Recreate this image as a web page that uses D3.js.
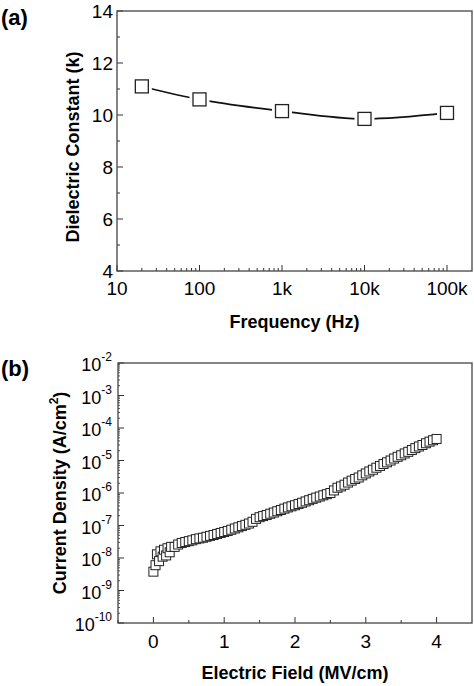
<!DOCTYPE html><html><head><meta charset="utf-8"><script src="https://cdn.jsdelivr.net/npm/d3@7"></script>
<style>body{margin:0;background:#fff}text{font-family:"Liberation Sans",Arial,sans-serif}</style></head><body>
<svg id="c" width="474" height="686"></svg>
<script>
const freq=[20,100,1000,10000,100000];
const kVals=[11.1,10.6,10.15,9.85,10.08];
const freqTicks=[10,100,1000,10000,100000];
const freqLabels=["10","100","1k","10k","100k"];
const kTicks=[4,6,8,10,12,14];
const field=[0,0.03,0.05,0.08,0.1,0.13,0.15,0.18,0.2,0.23,0.25,0.3,0.35,0.4,0.45,0.5,0.55,0.6,0.65,0.7,0.75,0.8,0.85,0.9,0.95,1.0,1.05,1.1,1.15,1.2,1.25,1.3,1.35,1.4,1.45,1.5,1.55,1.6,1.65,1.7,1.75,1.8,1.85,1.9,1.95,2.0,2.05,2.1,2.15,2.2,2.25,2.3,2.35,2.4,2.45,2.5,2.55,2.6,2.65,2.7,2.75,2.8,2.85,2.9,2.95,3.0,3.05,3.1,3.15,3.2,3.25,3.3,3.35,3.4,3.45,3.5,3.55,3.6,3.65,3.7,3.75,3.8,3.85,3.9,3.95,4.0];
const jVals=[3.8e-9,6e-9,1.3e-8,8e-9,1.6e-8,1.1e-8,1.8e-8,1.2e-8,2e-8,1.5e-8,2.2e-8,2.2e-8,2.6e-8,2.9e-8,3.1e-8,3.3e-8,3.5e-8,3.8e-8,4.0e-8,4.2e-8,4.5e-8,4.8e-8,5.1e-8,5.5e-8,5.9e-8,6.3e-8,6.8e-8,7.4e-8,8.1e-8,8.8e-8,9.6e-8,1.05e-7,1.15e-7,1.3e-7,1.6e-7,1.8e-7,1.95e-7,2.1e-7,2.3e-7,2.5e-7,2.75e-7,3e-7,3.3e-7,3.6e-7,3.9e-7,4.2e-7,4.6e-7,5e-7,5.5e-7,6e-7,6.6e-7,7.2e-7,7.8e-7,8.5e-7,9.2e-7,1.0e-6,1.2e-6,1.45e-6,1.6e-6,1.8e-6,2.1e-6,2.4e-6,2.7e-6,3.0e-6,3.5e-6,4.0e-6,4.6e-6,5.2e-6,6e-6,6.8e-6,7.8e-6,8.8e-6,1.0e-5,1.15e-5,1.3e-5,1.45e-5,1.65e-5,1.85e-5,2.1e-5,2.4e-5,2.7e-5,3.0e-5,3.4e-5,3.8e-5,4.2e-5,4.6e-5];
const jTicks=[-10,-9,-8,-7,-6,-5,-4,-3,-2];
const fieldTicks=[0,1,2,3,4];

const svg=d3.select("#c");
function frame(L,T,R,B){svg.append("rect").attr("x",L).attr("y",T).attr("width",R-L).attr("height",B-T).attr("fill","none").attr("stroke","#444").attr("stroke-width",1.3);}

// Panel a
const aL=117,aR=472,aT=11,aB=271;
const xa=d3.scaleLog().domain([10,100000]).range([aL,447]);
const ya=d3.scaleLinear().domain([4,14]).range([aB,aT]);
const ga=svg.append("g");
const minorX=[];for(let e=1;e<6;e++)for(let m=2;m<10;m++)if(m*10**e<190000)minorX.push(m*10**e);
minorX.forEach(v=>ga.append("line").attr("x1",xa(v)).attr("x2",xa(v)).attr("y1",aB).attr("y2",aB-3).attr("stroke","#333"));
freqTicks.forEach((v,i)=>{ga.append("line").attr("x1",xa(v)).attr("x2",xa(v)).attr("y1",aB).attr("y2",aB-6).attr("stroke","#333");
 ga.append("text").attr("x",xa(v)).attr("y",aB+24).attr("text-anchor","middle").attr("font-size",19).text(freqLabels[i]);});
d3.range(5,14,2).forEach(v=>ga.append("line").attr("x1",aL).attr("x2",aL+3).attr("y1",ya(v)).attr("y2",ya(v)).attr("stroke","#333"));
kTicks.forEach(v=>{ga.append("line").attr("x1",aL).attr("x2",aL+6).attr("y1",ya(v)).attr("y2",ya(v)).attr("stroke","#333");
 ga.append("text").attr("x",aL-4).attr("y",ya(v)+7).attr("text-anchor","end").attr("font-size",19).text(v);});
frame(aL,aT,aR,aB);
ga.append("path").datum(freq.map((f,i)=>[f,kVals[i]])).attr("d",d3.line().x(d=>xa(d[0])).y(d=>ya(d[1])).curve(d3.curveMonotoneX)).attr("fill","none").attr("stroke","#111").attr("stroke-width",1.6);
freq.forEach((f,i)=>{ga.append("rect").attr("x",xa(f)-10).attr("y",ya(kVals[i])-10).attr("width",20).attr("height",20).attr("fill","#fff");
 ga.append("rect").attr("x",xa(f)-6.5).attr("y",ya(kVals[i])-6.5).attr("width",13).attr("height",13).attr("fill","#fff").attr("stroke","#222").attr("stroke-width",1.3);});
ga.append("text").attr("x",(aL+aR)/2).attr("y",328).attr("text-anchor","middle").attr("font-size",18).attr("font-weight","bold").text("Frequency (Hz)");
ga.append("text").attr("transform",`translate(79,${(aT+aB)/2+6}) rotate(-90)`).attr("text-anchor","middle").attr("font-size",18).attr("font-weight","bold").text("Dielectric Constant (k)");
svg.append("text").attr("x",1).attr("y",25).attr("font-size",22).attr("font-weight","bold").text("(a)");

// Panel b
const bL=118,bR=472,bT=363,bB=623;
const xb=d3.scaleLinear().domain([-0.5,4.5]).range([bL,bR]);
const yb=d3.scaleLog().domain([1e-10,1e-2]).range([bB,bT]);
const gb=svg.append("g");
[-0.5,0.5,1.5,2.5,3.5].forEach(v=>gb.append("line").attr("x1",xb(v)).attr("x2",xb(v)).attr("y1",bB).attr("y2",bB-3).attr("stroke","#333"));
fieldTicks.forEach(v=>{gb.append("line").attr("x1",xb(v)).attr("x2",xb(v)).attr("y1",bB).attr("y2",bB-6).attr("stroke","#333");
 gb.append("text").attr("x",xb(v)).attr("y",bB+25).attr("text-anchor","middle").attr("font-size",19).text(v);});
jTicks.forEach(e=>{gb.append("line").attr("x1",bL).attr("x2",bL+6).attr("y1",yb(10**e)).attr("y2",yb(10**e)).attr("stroke","#333");
 if(e<-2)for(let m=2;m<10;m++){const y=yb(m*10**e);gb.append("line").attr("x1",bL).attr("x2",bL+2).attr("y1",y).attr("y2",y).attr("stroke","#555");}
 const t=gb.append("text").attr("x",bL-6).attr("y",yb(10**e)+8).attr("text-anchor","end").attr("font-size",18);
 t.append("tspan").text("10");t.append("tspan").attr("dy",-10).attr("font-size",12).text(e);});
frame(bL,bT,bR,bB);
field.forEach((f,i)=>gb.append("rect").attr("x",xb(f)-4.5).attr("y",yb(jVals[i])-4.5).attr("width",9).attr("height",9).attr("fill","#fff").attr("stroke","#222").attr("stroke-width",1));
gb.append("text").attr("x",(bL+bR)/2).attr("y",679).attr("text-anchor","middle").attr("font-size",18).attr("font-weight","bold").text("Electric Field (MV/cm)");
const yt=gb.append("text").attr("transform",`translate(66,${(bT+bB)/2}) rotate(-90)`).attr("text-anchor","middle").attr("font-size",18).attr("font-weight","bold");
yt.append("tspan").text("Current Density (A/cm");yt.append("tspan").attr("dy",-8).attr("font-size",12).text("2");yt.append("tspan").attr("dy",8).text(")");
svg.append("text").attr("x",1).attr("y",376).attr("font-size",22).attr("font-weight","bold").text("(b)");
</script></body></html>
